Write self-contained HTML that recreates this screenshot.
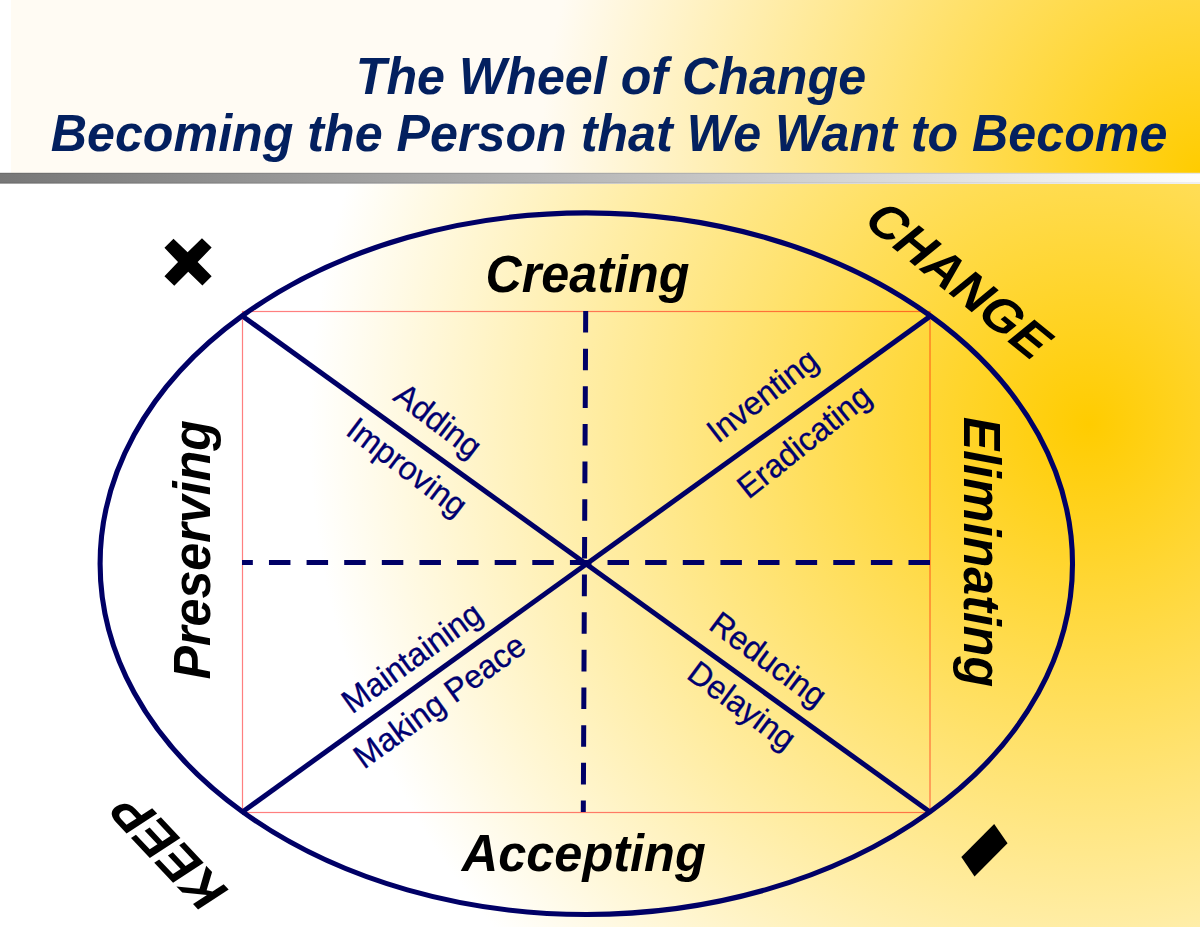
<!DOCTYPE html>
<html><head><meta charset="utf-8"><title>The Wheel of Change</title>
<style>
html,body{margin:0;padding:0;background:#fff;}
body{width:1200px;height:927px;overflow:hidden;position:relative;font-family:"Liberation Sans",sans-serif;}
svg{position:absolute;left:0;top:0;display:block;}
</style></head><body>
<svg width="1200" height="927" viewBox="0 0 1200 927">
<defs>
<radialGradient id="hdr" gradientUnits="userSpaceOnUse" cx="1200" cy="172" r="660">
<stop offset="0" stop-color="#ffcc00"/>
<stop offset="1" stop-color="#fffbf3"/>
</radialGradient>
<linearGradient id="bar" x1="0" y1="0" x2="1" y2="0">
<stop offset="0" stop-color="#777"/>
<stop offset="1" stop-color="#fdfdfd"/>
</linearGradient>
<radialGradient id="body" gradientUnits="userSpaceOnUse" cx="1089" cy="424" r="780">
<stop offset="0" stop-color="#ffcc00"/>
<stop offset="1" stop-color="#ffffff"/>
</radialGradient>
</defs>
<rect x="0" y="0" width="1200" height="927" fill="#fff"/>
<rect x="11" y="0" width="1189" height="173" fill="url(#hdr)"/>
<rect x="11" y="184" width="1189" height="743" fill="url(#body)"/>
<rect x="0" y="172.8" width="1200" height="10.8" fill="url(#bar)"/>
<rect x="0" y="172.8" width="1200" height="1.2" fill="#000" fill-opacity="0.09"/>
<rect x="0" y="182.4" width="1200" height="1.2" fill="#000" fill-opacity="0.09"/>

<g font-family="Liberation Sans" font-weight="bold" font-style="italic" fill="#03205f" font-size="50.2" text-anchor="middle">
<text transform="translate(610.9,93.75) scale(1,1.036)">The Wheel of Change</text>
<text transform="translate(609.05,151.25) scale(1,1.036)">Becoming the Person that We Want to Become</text>
</g>

<!-- wheel -->
<rect x="242.5" y="311.5" width="687.5" height="501" fill="none" stroke="#ff0000" stroke-opacity="0.5" stroke-width="1.2"/>
<ellipse cx="586.3" cy="563.7" rx="486.2" ry="350.8" fill="none" stroke="#000066" stroke-width="5.1"/>
<clipPath id="rc"><rect x="242.5" y="300" width="687.5" height="530"/></clipPath>
<g stroke="#000066" stroke-width="5" fill="none">
<g clip-path="url(#rc)">
<line x1="238" y1="312.9" x2="935" y2="815.6"/>
<line x1="238" y1="815.1" x2="935" y2="312.8"/>
</g>
<line x1="930" y1="562.5" x2="242" y2="562.5" stroke-dasharray="21.5 16.12"/>
<line x1="585.7" y1="311" x2="583.3" y2="812" stroke-dasharray="21.6 16.05"/>
</g>

<g font-family="Liberation Sans" font-weight="bold" font-style="italic" fill="#000" font-size="50">
<text font-size="50.3" transform="translate(485.4,291.8) scale(1,1.037)">Creating</text>
<text font-size="50.5" transform="translate(461.7,870.7) scale(1,1.037)">Accepting</text>
<text font-size="50.2" transform="translate(209.7,679.5) rotate(-90) scale(1,1.037)">Preserving</text>
<text font-size="50.2" transform="translate(963.7,416.7) rotate(90) scale(1,1.037)">Eliminating</text>
</g>

<g font-family="Liberation Sans" font-weight="bold" fill="#000">
<text font-size="55.5" transform="translate(860.9,222) matrix(1,0,0,0.815,0,0) rotate(45)">CHANGE</text>
<text font-size="56.5" transform="translate(231,891.9) matrix(1,0,0,0.83,0,0) rotate(232)">KEEP</text>
</g>

<g font-family="Liberation Sans" fill="#000070" font-size="32" stroke="#000070" stroke-width="0.3">
<text transform="translate(391.7,399.2) rotate(37.3) scale(1,1.03)">Adding</text>
<text transform="translate(344.2,433.8) rotate(37) scale(1,1.03)">Improving</text>
<text transform="translate(717.8,444.1) rotate(-37.6) scale(1,1.03)">Inventing</text>
<text font-size="32" transform="translate(748.4,500.1) rotate(-38.5) scale(1,1.03)">Eradicating</text>
<text font-size="32" transform="translate(352.1,714.5) rotate(-35.8) scale(1,1.03)">Maintaining</text>
<text font-size="32" transform="translate(364.1,769.7) rotate(-36) scale(1,1.03)">Making Peace</text>
<text transform="translate(707.3,628.2) rotate(36.5) scale(1,1.03)">Reducing</text>
<text transform="translate(685.3,677.6) rotate(36.5) scale(1,1.03)">Delaying</text>
</g>

<!-- X mark -->
<polygon fill="#000" points="164.44,247.75 173.5,238.68 187.62,252.28 201.97,238.16 211.63,247.52 197.66,262.09 211.63,276.21 202.42,285.5 188.23,271.68 174.26,285.73 164.44,276.21 178.03,262.09"/>
<!-- minus mark -->
<polygon fill="#000" points="994.17,823.91 1007.54,843.32 974.54,876.54 961.33,856.91"/>
</svg>
</body></html>
